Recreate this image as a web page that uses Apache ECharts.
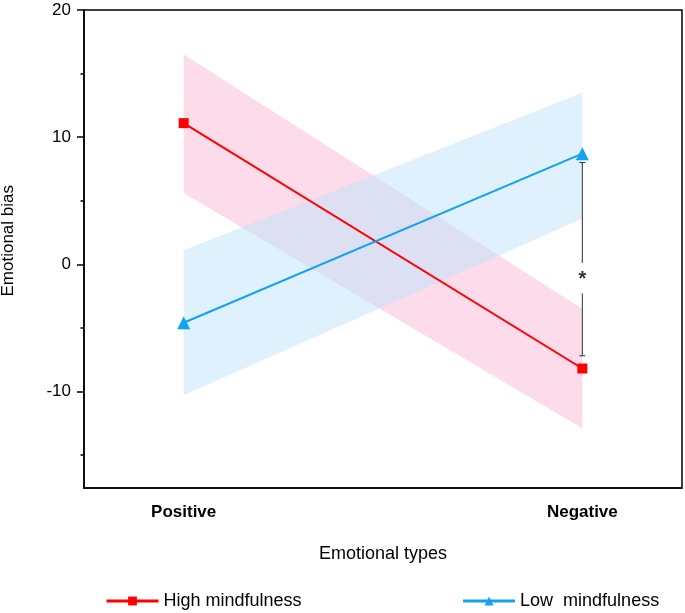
<!DOCTYPE html>
<html>
<head>
<meta charset="utf-8">
<script src="https://cdn.jsdelivr.net/npm/echarts@6/dist/echarts.min.js"></script>
<style>
  html, body { margin: 0; padding: 0; background: #fff; }
  #chart { width: 685px; height: 613px; }
</style>
</head>
<body>
<div id="chart"></div>
<script>
// emotional types on the x axis (positioned at 0 and 1)
const types = ['Positive', 'Negative']
const typePos = [0, 1]

// simple slopes with confidence bands
const highMean = [11.1, -8.2]
const highUpper = [16.5, -3.5]
const highLower = [5.6, -12.9]
const lowMean = [-4.6, 8.7]
const lowUpper = [1.1, 13.5]
const lowLower = [-10.3, 3.6]

// significance bracket at Negative
const sigSegments = [[8.0, 0.1], [-2.3, -7.2]]
const sigStarY = -0.95

const yMajor = [20, 10, 0, -10]
const yMinor = [15, 5, -5, -15]

const FONT = 'Liberation Sans'

const chart = echarts.init(document.getElementById('chart'))

// polygon band built from upper/lower arrays
function bandSeries(name, upper, lower, color) {
  return {
    type: 'custom',
    name: name,
    silent: true,
    z: 1,
    data: [[typePos[0], lower[0], upper[0]]],
    renderItem(params, api) {
      const pts = [
        api.coord([typePos[0], upper[0]]),
        api.coord([typePos[1], upper[1]]),
        api.coord([typePos[1], lower[1]]),
        api.coord([typePos[0], lower[0]])
      ]
      return { type: 'polygon', shape: { points: pts }, style: { fill: color } }
    }
  }
}

const option = {
  animation: false,
  grid: {
    left: 84, top: 10, right: 3, bottom: 125,
    show: true, borderColor: '#000', borderWidth: 1.5, backgroundColor: '#fff'
  },
  legend: {
    bottom: -2, left: 100,
    itemWidth: 52, itemHeight: 11, itemGap: 160,
    lineStyle: { width: 3 },
    data: ['High mindfulness', 'Low  mindfulness'],
    textStyle: { fontFamily: FONT, fontSize: 18, color: '#000' }
  },
  xAxis: {
    type: 'value', min: -0.25, max: 1.25,
    name: 'Emotional types', nameLocation: 'middle', nameGap: 57,
    nameTextStyle: { fontFamily: FONT, fontSize: 18, color: '#000' },
    splitLine: { show: false },
    axisLine: { onZero: false, lineStyle: { color: '#000', width: 1.5 } },
    axisTick: { show: false },
    axisLabel: {
      customValues: typePos, margin: 16,
      fontFamily: FONT, fontSize: 17, fontWeight: 'bold', color: '#000',
      formatter: (v) => types[typePos.indexOf(v)]
    }
  },
  yAxis: [
    {
      type: 'value', min: -17.6, max: 20,
      splitLine: { show: false },
      axisLine: { show: true, onZero: false, lineStyle: { color: '#000', width: 1.5 } },
      axisTick: { show: true, customValues: yMajor, length: 7, lineStyle: { color: '#000', width: 1.5 } },
      axisLabel: { customValues: yMajor, margin: 13, fontFamily: FONT, fontSize: 17, color: '#000' }
    },
    {
      type: 'value', min: -17.6, max: 20, position: 'left',
      splitLine: { show: false },
      axisLine: { show: false, onZero: false },
      axisTick: { show: true, customValues: yMinor, length: 3.5, lineStyle: { color: '#000', width: 1.5 } },
      axisLabel: { show: false }
    }
  ],
  graphic: [
    {
      type: 'text', left: 0, top: 185, rotation: Math.PI / 2,
      style: { text: 'Emotional bias', fontFamily: FONT, fontSize: 17, fill: '#000' }
    }
  ],
  series: [
    bandSeries('highBand', highUpper, highLower, 'rgba(249,185,213,0.5)'),
    bandSeries('lowBand', lowUpper, lowLower, 'rgba(189,227,249,0.5)'),
    {
      type: 'line', name: 'High mindfulness', z: 3,
      data: typePos.map((x, i) => [x, highMean[i]]),
      symbol: 'rect', symbolSize: 10,
      lineStyle: { color: '#ff0000', width: 2 },
      itemStyle: { color: '#ff0000' }
    },
    {
      type: 'line', name: 'Low  mindfulness', z: 3,
      data: typePos.map((x, i) => [x, lowMean[i]]),
      symbol: 'triangle', symbolSize: 13,
      lineStyle: { color: '#12a2f2', width: 2 },
      itemStyle: { color: '#12a2f2' }
    },
    {
      type: 'custom', name: 'sig', silent: true, z: 4,
      data: [[typePos[1], sigStarY]],
      renderItem(params, api) {
        const children = []
        sigSegments.forEach((seg) => {
          const a = api.coord([typePos[1], seg[0]])
          const b = api.coord([typePos[1], seg[1]])
          children.push({ type: 'line', shape: { x1: a[0], y1: a[1], x2: b[0], y2: b[1] }, style: { stroke: '#333', lineWidth: 1 } })
        })
        const t = api.coord([typePos[1], sigSegments[0][0]])
        const b = api.coord([typePos[1], sigSegments[1][1]])
        children.push({ type: 'line', shape: { x1: t[0] - 3, y1: t[1], x2: t[0] + 3, y2: t[1] }, style: { stroke: '#333', lineWidth: 1 } })
        children.push({ type: 'line', shape: { x1: b[0] - 3, y1: b[1], x2: b[0] + 3, y2: b[1] }, style: { stroke: '#333', lineWidth: 1 } })
        const s = api.coord([typePos[1], sigStarY])
        children.push({
          type: 'text', x: s[0], y: s[1] + 3,
          style: { text: '*', fontFamily: FONT, fontSize: 20, fontWeight: 'bold', fill: '#333', align: 'center', verticalAlign: 'middle' }
        })
        return { type: 'group', children: children }
      }
    }
  ]
}

chart.setOption(option)
</script>
</body>
</html>
